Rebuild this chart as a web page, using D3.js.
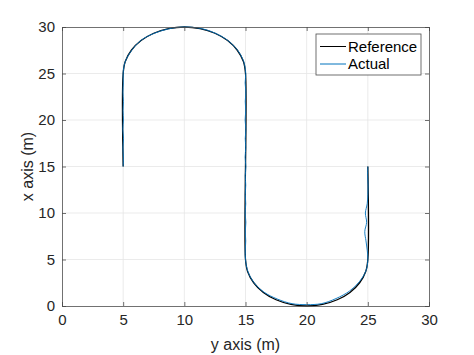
<!DOCTYPE html>
<html><head><meta charset="utf-8">
<script src="https://cdn.jsdelivr.net/npm/d3@7"></script>
<style>body{margin:0;background:#fff}svg{display:block}text{font-family:"Liberation Sans",Arial,sans-serif}</style>
</head><body><svg id="c" width="474" height="355"></svg>
<script>
const xTicks=[0,5,10,15,20,25,30];
const yTicks=[0,5,10,15,20,25,30];
const seriesNames=["Reference","Actual"];
// horizontal ("y axis") and vertical ("x axis") coordinates
const refY=[5,5,5.17,5.67,6.46,7.5,8.71,10,11.29,12.5,13.54,14.33,14.83,15,15,15.17,15.67,16.46,17.5,18.71,20,21.29,22.5,23.54,24.33,24.83,25,25];
const refX=[15,25,26.29,27.5,28.54,29.33,29.83,30,29.83,29.33,28.54,27.5,26.29,25,5,3.71,2.5,1.46,0.67,0.17,0,0.17,0.67,1.46,2.5,3.71,5,15];
const actY=[
 5,5.02,4.98,5.03,4.97,5.02,4.99,5.02,4.98,5.01,5,
 5.15,5.7,6.5,7.5,8.7,10,11.3,12.5,13.5,14.35,14.85,15.02,
 14.97,15.03,14.98,15.02,14.97,15.03,14.98,15.02,14.97,15.03,14.98,15.02,14.98,15.02,14.97,15.03,14.98,15.02,14.98,15,
 15.2,15.7,16.5,17.6,18.8,20,21.2,22.4,23.5,24.3,24.85,25,
 24.95,24.85,24.75,24.9,24.8,24.95,25,25.02,24.98,25];
const actX=[
 15,16,17,18,19,20,21,22,23,24,25,
 26.2,27.5,28.6,29.3,29.8,30,29.85,29.35,28.6,27.5,26.3,25,
 24,23,22,21,20,19,18,17,16,15,14,13,12,11,10,9,8,7,6,5,
 3.7,2.5,1.5,0.75,0.25,0.15,0.25,0.8,1.6,2.6,3.8,5,
 6,7,8,9,10,11,12,13,14,15];
</script>
<script>
const svg=d3.select("#c");
const L=62,T=27,R=429,B=306;
const x=d3.scaleLinear().domain([0,30]).range([L,R]);
const y=d3.scaleLinear().domain([0,30]).range([B,T]);
const g=svg.append("g");
g.append("rect").attr("x",L).attr("y",T).attr("width",R-L).attr("height",B-T).attr("fill","#fff");
g.selectAll(".gx").data(xTicks.slice(1,-1)).join("line").attr("x1",d=>x(d)).attr("x2",d=>x(d)).attr("y1",T).attr("y2",B).attr("stroke","#e6e6e6").attr("stroke-width",0.8);
g.selectAll(".gy").data(yTicks.slice(1,-1)).join("line").attr("y1",d=>y(d)).attr("y2",d=>y(d)).attr("x1",L).attr("x2",R).attr("stroke","#e6e6e6").attr("stroke-width",0.8);
function pts(xs,ys){const n=Math.min(xs.length,ys.length);const a=[];for(let i=0;i<n;i++)a.push([xs[i],ys[i]]);return a;}
const line=d3.line().x(d=>x(d[0])).y(d=>y(d[1])).curve(d3.curveCatmullRom.alpha(0.5));
g.append("path").datum(pts(refY,refX)).attr("d",line).attr("fill","none").attr("stroke","#000").attr("stroke-width",1.3);
g.append("path").datum(pts(actY,actX)).attr("d",line).attr("fill","none").attr("stroke","#0072BD").attr("stroke-width",0.9);
const ax=svg.append("g").attr("transform",`translate(0,${B})`).call(d3.axisBottom(x).tickValues(xTicks).tickSize(-4).tickPadding(8).tickFormat(d3.format("d")));
const ay=svg.append("g").attr("transform",`translate(${L},0)`).call(d3.axisLeft(y).tickValues(yTicks).tickSize(-4).tickPadding(7).tickFormat(d3.format("d")));
const at=svg.append("g").attr("transform",`translate(0,${T})`).call(d3.axisTop(x).tickValues(xTicks).tickSize(-4).tickFormat(""));
const ar=svg.append("g").attr("transform",`translate(${R},0)`).call(d3.axisRight(y).tickValues(yTicks).tickSize(-4).tickFormat(""));
[ax,ay,at,ar].forEach(a=>{a.select(".domain").attr("stroke","#4d4d4d").attr("stroke-width",0.8);a.selectAll(".tick line").attr("stroke","#4d4d4d").attr("stroke-width",0.8);a.selectAll("text").attr("font-size",15).attr("fill","#262626").attr("font-family","Liberation Sans, Arial, sans-serif");});
svg.append("text").attr("x",(L+R)/2).attr("y",350).attr("text-anchor","middle").attr("font-size",16).attr("fill","#262626").text("y axis (m)");
svg.append("text").attr("transform",`translate(33,${(T+B)/2}) rotate(-90)`).attr("text-anchor","middle").attr("font-size",16).attr("fill","#262626").text("x axis (m)");
const lg=svg.append("g");
lg.append("rect").attr("x",316).attr("y",34).attr("width",105).attr("height",41).attr("fill","#fff").attr("stroke","#4d4d4d").attr("stroke-width",0.8);
const colors=["#000","#0072BD"];
seriesNames.forEach((s,i)=>{
  const yy=46.5+i*17.5;
  lg.append("line").attr("x1",320).attr("x2",346).attr("y1",yy).attr("y2",yy).attr("stroke",colors[i]).attr("stroke-width",1);
  lg.append("text").attr("x",348).attr("y",yy+5).attr("font-size",15).attr("fill","#000").text(s);
});
</script>
</body></html>
